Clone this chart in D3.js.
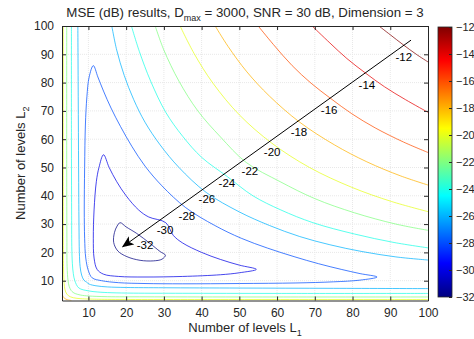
<!DOCTYPE html>
<html>
<head>
<meta charset="utf-8">
<script src="https://cdn.jsdelivr.net/npm/d3@7/dist/d3.min.js"></script>
<style>
body { margin: 0; background: #fff; }
svg text { font-family: "Liberation Sans", Arial, sans-serif; fill: #262626; }
</style>
</head>
<body>
<div id="chart"></div>
<script>
// ticks
const xTicks = [10, 20, 30, 40, 50, 60, 70, 80, 90, 100];
const yTicks = [10, 20, 30, 40, 50, 60, 70, 80, 90, 100];
const cbarTicks = [-32, -30, -28, -26, -24, -22, -20, -18, -16, -14, -12];

// contour lines, [level, [[L1, L2], ...]]
const upperLines = [
    [-12, [[87, 100], [90, 96.9], [93.4, 93.4], [96.9, 90], [100, 87.3]]],
    [-14, [[69.3, 100], [74, 94], [78.5, 88.5], [83.4, 83.4], [88.5, 78.5], [94, 74], [100, 69.5]]],
    [-16, [[55, 100], [59, 93.5], [64, 86], [69, 79.8], [74.3, 74.3], [79.8, 69], [86, 64], [93.5, 59], [100, 55.3]]],
    [-18, [[43.6, 100], [47, 92.8], [52, 83.8], [58, 75.2], [66, 66], [75.2, 58], [83.8, 52], [92.8, 47], [100, 43.8]]],
    [-20, [[34.3, 100], [38, 90.3], [43, 79.8], [50, 68.6], [58.6, 58.6], [68.6, 50], [79.8, 43], [90.3, 38], [100, 34.4]]],
    [-22, [[27.7, 100], [30, 91.5], [34, 80.5], [39, 70], [45, 60.8], [51.8, 51.8], [60.8, 45], [70, 39], [80.5, 34], [91.5, 30], [100, 27.8]]],
    [-24, [[21.4, 100], [23.5, 91], [26.5, 80.5], [30.5, 69.5], [35, 61], [40, 53.6], [46.8, 46.8], [53.6, 40], [61, 35], [69.5, 30.5], [80.5, 26.5], [91, 23.5], [100, 21.6]]],
    [-26, [[16.2, 100], [17.5, 91.5], [19.5, 82.5], [22, 74], [25, 66], [29, 58], [34, 50], [41.2, 41.2], [50, 34.3], [58, 29.5], [66, 25.6], [74, 22.7], [82.5, 20.3], [91.5, 18.4], [100, 17.3]]]
];

const edgeLines = [
    [-26, [[7.2, 100], [7.3, 75], [7.4, 50], [7.5, 30], [7.6, 20], [7.8, 15], [8.2, 12], [8.8, 10.2], [9.5, 9.5], [10.2, 8.8], [12, 8.2], [15, 7.8], [20, 7.6], [30, 7.5], [50, 7.4], [75, 7.3], [100, 7.2]]],
    [-24, [[5.5, 100], [5.5, 60], [5.55, 35], [5.6, 22], [5.75, 16], [6, 12.5], [6.4, 10], [7.45, 7.45], [10, 6.4], [12.5, 6], [16, 5.75], [22, 5.6], [35, 5.55], [60, 5.5], [100, 5.5]]],
    [-22, [[4.25, 100], [4.25, 50], [4.3, 25], [4.35, 15], [4.6, 10], [4.9, 8], [5.45, 6.5], [5.9, 5.9], [6.5, 5.45], [8, 4.9], [10, 4.6], [15, 4.35], [25, 4.3], [50, 4.25], [100, 4.25]]],
    [-20, [[3.33, 100], [3.35, 40], [3.4, 15], [3.52, 10], [3.64, 8], [3.98, 6], [4.69, 4.69], [6, 3.98], [8, 3.64], [10, 3.52], [15, 3.4], [40, 3.35], [100, 3.33]]],
    [-18, [[3, 5.5], [3.3, 4.37], [3.73, 3.73], [4.37, 3.3], [5.5, 3]]]
];

const closedLoops = [
    [-28, [[11.3, 86], [12.5, 82], [14, 77], [16, 71], [18.5, 64.5], [21.5, 57.5], [25, 50.5], [29.5, 43.5], [35.8, 35.8], [43.5, 29.5], [50.5, 25], [57.5, 21.5], [64.5, 18.5], [71, 16], [77, 14], [82, 12.5], [86.5, 11.3],
           [82, 10.2], [75, 9.6], [65, 9.2], [50, 9], [35, 8.9], [25, 9], [18, 9.3], [13.5, 10], [11, 11], [10, 13.5], [9.3, 18], [9, 25], [8.9, 35], [9, 50], [9.2, 65], [9.6, 75], [10.2, 82]]],
    [-30, [[14, 54.5], [15.5, 50], [17.5, 45], [20, 40], [23.3, 35], [26, 32.5], [30.5, 30.5], [32.5, 26], [35, 23.3], [40, 20], [45, 17.5], [50, 15.5], [54.5, 14],
           [50, 12.8], [45, 12.1], [35, 11.5], [25, 11.3], [18, 11.5], [14, 12.3], [12.3, 14], [11.5, 18], [11.3, 25], [11.5, 35], [12.1, 45], [12.8, 50]]],
    [-32, [[18.4, 30.5], [20, 29], [22.8, 26.7], [26.3, 23.2], [29, 20.3], [30.4, 19], [29.5, 17.6], [27.2, 17], [23.7, 17.2], [20.2, 18.5], [17.8, 20.5], [16.7, 23.5], [16.9, 27], [17.6, 29.3]]]
];

// labels placed along the arrow, [L1, L2, text]
const contourLabels = [
    [93.6, 89.0, '-12'], [83.8, 79.2, '-14'], [73.8, 70.3, '-16'], [65.8, 62.5, '-18'],
    [58.7, 55.5, '-20'], [52.8, 48.8, '-22'], [46.7, 44.5, '-24'], [41.4, 38.9, '-26'],
    [36.1, 32.9, '-28'], [30.3, 27.9, '-30'], [25.0, 22.6, '-32']
];
const arrowPts = [[95.5, 95], [19.1, 22]];

// jet colormap stops
const jetStops = [[0, '#000080'], [0.125, '#0000ff'], [0.375, '#00ffff'], [0.625, '#ffff00'], [0.875, '#ff0000'], [1, '#800000']];

//dimensions
let dimensions = {
    width: 474,
    height: 339,
    margin: { top: 26, right: 46, bottom: 38.5, left: 62 }
};
dimensions.boundW = dimensions.width - dimensions.margin.left - dimensions.margin.right;
dimensions.boundH = dimensions.height - dimensions.margin.top - dimensions.margin.bottom;

const svg = d3.select('#chart').append('svg')
    .attr('width', dimensions.width)
    .attr('height', dimensions.height);

const bounds = svg.append('g')
    .attr('transform', `translate(${dimensions.margin.left},${dimensions.margin.top})`);

//scales
const xScale = d3.scaleLinear().domain([3, 100]).range([0, dimensions.boundW]);
const yScale = d3.scaleLinear().domain([3, 100]).range([dimensions.boundH, 0]);
const colorScale = d3.scaleLinear()
    .domain(jetStops.map(s => -32 + 20 * s[0]))
    .range(jetStops.map(s => s[1]));

svg.append('defs').append('clipPath').attr('id', 'clip')
    .append('rect').attr('width', dimensions.boundW).attr('height', dimensions.boundH);

// grid
const grid = bounds.append('g').attr('stroke', '#e8e8e8').attr('stroke-width', 1).attr('stroke-dasharray', '1,1');
grid.selectAll('.gx').data(xTicks.slice(0, -1)).join('line')
    .attr('x1', d => xScale(d)).attr('x2', d => xScale(d))
    .attr('y1', 0).attr('y2', dimensions.boundH);
grid.selectAll('.gy').data(yTicks.slice(0, -1)).join('line')
    .attr('y1', d => yScale(d)).attr('y2', d => yScale(d))
    .attr('x1', 0).attr('x2', dimensions.boundW);

// contours
const lineGen = d3.line()
    .x(d => xScale(d[0]))
    .y(d => yScale(d[1]))
    .curve(d3.curveCatmullRom.alpha(0.5));
const loopGen = d3.line()
    .x(d => xScale(d[0]))
    .y(d => yScale(d[1]))
    .curve(d3.curveCatmullRomClosed.alpha(0.5));

const plot = bounds.append('g').attr('clip-path', 'url(#clip)')
    .attr('fill', 'none')
    .attr('stroke-width', 1)
    .attr('stroke-opacity', 0.72);
plot.selectAll('.upper').data(upperLines).join('path')
    .attr('d', d => lineGen(d[1]))
    .attr('stroke', d => colorScale(d[0]));
plot.selectAll('.edge').data(edgeLines).join('path')
    .attr('d', d => lineGen(d[1]))
    .attr('stroke', d => colorScale(d[0]));
plot.selectAll('.loop').data(closedLoops).join('path')
    .attr('d', d => loopGen(d[1]))
    .attr('stroke', d => colorScale(d[0]));

// arrow
svg.select('defs').append('marker')
    .attr('id', 'head')
    .attr('viewBox', '0 0 12 10')
    .attr('refX', 11).attr('refY', 5)
    .attr('markerWidth', 12).attr('markerHeight', 10)
    .attr('markerUnits', 'userSpaceOnUse')
    .attr('orient', 'auto')
    .append('path')
    .attr('d', 'M0,0 L12,5 L0,10 L3,5 Z')
    .attr('fill', '#000');

bounds.append('line')
    .attr('x1', xScale(arrowPts[0][0])).attr('y1', yScale(arrowPts[0][1]))
    .attr('x2', xScale(arrowPts[1][0])).attr('y2', yScale(arrowPts[1][1]))
    .attr('stroke', '#000')
    .attr('stroke-width', 1)
    .attr('marker-end', 'url(#head)');

bounds.selectAll('.clabel').data(contourLabels).join('text')
    .attr('x', d => xScale(d[0]))
    .attr('y', d => yScale(d[1]))
    .attr('text-anchor', 'middle')
    .attr('dominant-baseline', 'central')
    .style('font-size', '11.5px')
    .style('fill', '#000')
    .text(d => d[2]);

// axes
const tickLen = 4;
const xAxis = bounds.append('g')
    .attr('transform', `translate(0,${dimensions.boundH})`)
    .call(d3.axisBottom(xScale).tickValues(xTicks).tickSizeInner(-tickLen).tickSizeOuter(0).tickPadding(8));
const xAxisTop = bounds.append('g')
    .call(d3.axisTop(xScale).tickValues(xTicks).tickSizeInner(-tickLen).tickSizeOuter(0).tickFormat(''));
const yAxis = bounds.append('g')
    .call(d3.axisLeft(yScale).tickValues(yTicks).tickSizeInner(-tickLen).tickSizeOuter(0).tickPadding(8));
const yAxisRight = bounds.append('g')
    .attr('transform', `translate(${dimensions.boundW},0)`)
    .call(d3.axisRight(yScale).tickValues(yTicks).tickSizeInner(-tickLen).tickSizeOuter(0).tickFormat(''));

bounds.selectAll('.domain').attr('stroke', '#262626');
bounds.selectAll('.tick line').attr('stroke', '#262626');
bounds.selectAll('.tick text')
    .style('font-size', '12px')
    .style('font-family', '"Liberation Sans", Arial, sans-serif')
    .attr('fill', '#262626');

// colorbar
const cbar = { x: 438, y: 27, w: 14, h: 270 };
const cScale = d3.scaleLinear().domain([-32, -12]).range([cbar.y + cbar.h, cbar.y]);
const grad = svg.select('defs').append('linearGradient')
    .attr('id', 'jet').attr('x1', 0).attr('y1', 1).attr('x2', 0).attr('y2', 0);
grad.selectAll('stop').data(jetStops).join('stop')
    .attr('offset', d => d[0])
    .attr('stop-color', d => d[1]);
svg.append('rect')
    .attr('x', cbar.x).attr('y', cbar.y)
    .attr('width', cbar.w).attr('height', cbar.h)
    .attr('fill', 'url(#jet)')
    .attr('stroke', '#262626')
    .attr('stroke-width', 0.8);
const cAxis = svg.append('g')
    .attr('transform', `translate(${cbar.x + cbar.w},0)`)
    .call(d3.axisRight(cScale).tickValues(cbarTicks).tickSizeInner(-3).tickSizeOuter(0).tickPadding(4));
cAxis.select('.domain').remove();
cAxis.selectAll('.tick line').attr('stroke', '#262626');
cAxis.selectAll('.tick text')
    .style('font-size', '11px')
    .style('font-family', '"Liberation Sans", Arial, sans-serif')
    .attr('fill', '#262626');

// title and labels
const title = svg.append('text')
    .attr('x', dimensions.margin.left + dimensions.boundW / 2)
    .attr('y', 17)
    .attr('text-anchor', 'middle')
    .style('font-size', '13.3px');
title.append('tspan').text('MSE (dB) results, D');
title.append('tspan').attr('dy', 4).style('font-size', '9px').text('max');
title.append('tspan').attr('dy', -4).text(' = 3000, SNR = 30 dB, Dimension = 3');

const xLabel = svg.append('text')
    .attr('x', dimensions.margin.left + dimensions.boundW / 2)
    .attr('y', 332)
    .attr('text-anchor', 'middle')
    .style('font-size', '13px');
xLabel.append('tspan').text('Number of levels L');
xLabel.append('tspan').attr('dy', 4).style('font-size', '9px').text('1');

const yLabel = svg.append('text')
    .attr('transform', `translate(25,${dimensions.margin.top + dimensions.boundH / 2}) rotate(-90)`)
    .attr('text-anchor', 'middle')
    .style('font-size', '13px');
yLabel.append('tspan').text('Number of levels L');
yLabel.append('tspan').attr('dy', 4).style('font-size', '9px').text('2');
</script>
</body>
</html>
